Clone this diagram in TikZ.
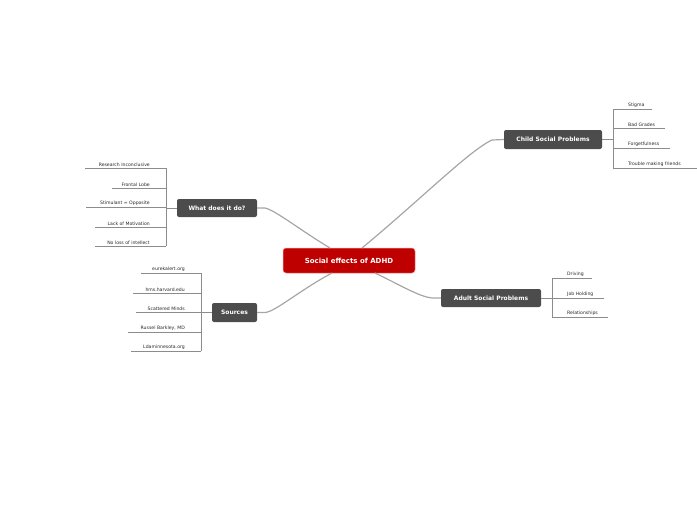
\documentclass[tikz,border=0pt]{standalone}
\usepackage{fontspec}
\setmainfont{DejaVu Sans}
\begin{document}
\begin{tikzpicture}[x=1pt,y=-1pt,
  topic/.style={fill=black!70,rounded corners=2pt,text=white,font=\fontsize{6}{7}\selectfont\bfseries,minimum height=18pt,inner xsep=6pt},
  leaf/.style={font=\fontsize{4.6}{5}\selectfont,text=black!85,inner sep=1pt},
  ul/.style={draw=black!45,line width=0.6pt},
  br/.style={draw=black!35,line width=1.2pt},
  thin/.style={draw=black!30,line width=0.6pt}]
\useasboundingbox (0,0) rectangle (697,520);
\node[fill=red!75!black,rounded corners=3pt,text=white,font=\fontsize{7}{8}\selectfont\bfseries,minimum width=132pt,minimum height=25pt,draw=red!40,line width=0.5pt] (c) at (349,260.5) {Social effects of ADHD};
\node[topic,minimum width=98pt,minimum height=19pt] (ch) at (553,139.5) {Child Social Problems};
\node[topic,minimum width=100pt] (ad) at (491,298) {Adult Social Problems};
\node[topic,minimum width=80pt] (wh) at (217,208) {What does it do?};
\node[topic,minimum width=45pt,minimum height=19pt] (so) at (234.5,312.5) {Sources};
% main branches
\draw[br] (362,248) .. controls (420,200) and (470,150) .. (492,140) -- (ch.west);
\draw[br] (375,273) .. controls (400,285) and (420,297) .. (432,298) -- (ad.west);
\draw[br] (330,248) .. controls (300,230) and (275,210) .. (265,208) -- (wh.east);
\draw[br] (332,273) .. controls (300,290) and (275,312) .. (265,312.5) -- (so.east);
% child leaves
\coordinate (cv1) at (613,110); \coordinate (cv2) at (613,168);
\draw[ul] (ch.east) -- (613,139.5); \draw[ul] (cv1) -- (cv2);
\foreach \t/\y/\e/\n in {Stigma/109/652/l1,Bad Grades/128/665/l2,Forgetfulness/148/670/l3,Trouble making friends/168/697/l4}{
  \node[leaf,anchor=south west] (\n) at (627,\y) {\t};
  \draw[ul] (613,\y) -- (\e,\y);}
% adult leaves
\draw[ul] (ad.east) -- (552,298); \draw[ul] (552,278) -- (552,317);
\foreach \t/\y/\e/\n in {Driving/278/592/a1,Job Holding/298/604/a2,Relationships/317/608/a3}{
  \node[leaf,anchor=south west] (\n) at (566,\y) {\t};
  \draw[ul] (552,\y) -- (\e,\y);}
% what leaves
\draw[ul] (wh.west) -- (166,208); \draw[ul] (166,168) -- (166,246);
\foreach \t/\y/\s/\n in {Research Inconclusive/168/85/w1,Frontal Lobe/188/112/w2,Stimulant = Opposite/207/86/w3,Lack of Motivation/227/95/w4,No loss of intellect/246/95/w5}{
  \node[leaf,anchor=south east] (\n) at (151,\y) {\t};
  \draw[ul] (\s,\y) -- (166,\y);}
% sources leaves
\draw[ul] (so.west) -- (201,312.5); \draw[ul] (201,273) -- (201,351);
\foreach \t/\y/\s/\n in {eurekalert.org/273/141/s1,hms.harvard.edu/293/133/s2,Scattered Minds/312/136/s3,{Russel Barkley, MD}/332/128/s4,Ldaminnesota.org/351/131/s5}{
  \node[leaf,anchor=south east] (\n) at (186,\y) {\t};
  \draw[ul] (\s,\y) -- (201,\y);}
\end{tikzpicture}
\end{document}
